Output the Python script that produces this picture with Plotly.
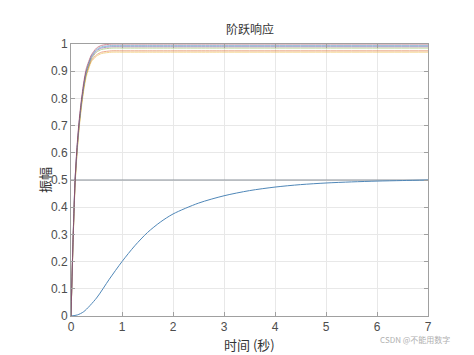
import plotly.graph_objects as go

# ---- data ----
t_slow = [0, 0.125, 0.25, 0.5, 0.75, 1.0, 1.25, 1.5, 1.75, 2.0, 2.5, 3.0, 3.5, 4.0, 4.5, 5.0, 5.5, 6.0, 6.5, 7.0]
y_slow = [0, 0.004, 0.016, 0.066, 0.135, 0.2, 0.258, 0.307, 0.345, 0.375, 0.415, 0.442, 0.461, 0.474, 0.483, 0.489, 0.493, 0.496, 0.498, 0.5]

t_fast = [0, 0.04, 0.08, 0.12, 0.16, 0.2, 0.25, 0.3, 0.4, 0.5, 0.6, 0.8, 1.0, 1.5, 2, 3, 4, 5, 6, 7]
fast_blue   = [0, 0.28, 0.50, 0.62, 0.71, 0.78, 0.85, 0.90, 0.955, 0.98, 0.99, 0.995, 0.995, 0.995, 0.995, 0.995, 0.995, 0.995, 0.995, 0.995]
fast_orange = [0, 0.27, 0.49, 0.61, 0.70, 0.77, 0.84, 0.89, 0.94, 0.96, 0.97, 0.975, 0.975, 0.975, 0.975, 0.975, 0.975, 0.975, 0.975, 0.975]
fast_yellow = [0, 0.27, 0.48, 0.60, 0.69, 0.76, 0.83, 0.88, 0.935, 0.955, 0.965, 0.97, 0.97, 0.97, 0.97, 0.97, 0.97, 0.97, 0.97, 0.97]
fast_purple = [0, 0.28, 0.50, 0.62, 0.71, 0.78, 0.85, 0.90, 0.95, 0.975, 0.985, 0.99, 0.99, 0.99, 0.99, 0.99, 0.99, 0.99, 0.99, 0.99]
fast_green  = [0, 0.27, 0.49, 0.61, 0.70, 0.77, 0.84, 0.89, 0.945, 0.97, 0.98, 0.985, 0.985, 0.985, 0.985, 0.985, 0.985, 0.985, 0.985, 0.985]
fast_cyan   = [0, 0.28, 0.50, 0.62, 0.71, 0.78, 0.85, 0.90, 0.955, 0.978, 0.988, 0.993, 0.993, 0.993, 0.993, 0.993, 0.993, 0.993, 0.993, 0.993]
fast_red    = [0, 0.28, 0.50, 0.63, 0.72, 0.79, 0.86, 0.91, 0.96, 0.985, 0.995, 1.0, 1.0, 1.0, 1.0, 1.0, 1.0, 1.0, 1.0, 1.0]

ref_x = [0, 7]
ref_y = [0.5, 0.5]

x_ticks = [0, 1, 2, 3, 4, 5, 6, 7]
y_ticks = [0, 0.1, 0.2, 0.3, 0.4, 0.5, 0.6, 0.7, 0.8, 0.9, 1]
y_ticklabels = ["0", "0.1", "0.2", "0.3", "0.4", "0.5", "0.6", "0.7", "0.8", "0.9", "1"]

FONT = "Liberation Sans, Arial, Noto Sans CJK SC, sans-serif"
CJK = "Noto Sans CJK SC, sans-serif"

fig = go.Figure()
fig.add_trace(go.Scatter(x=ref_x, y=ref_y, mode="lines", line=dict(color="#8a9299", width=1.1), hoverinfo="skip"))
fig.add_trace(go.Scatter(x=t_slow, y=y_slow, mode="lines", line=dict(color="#4f87b8", width=1, shape="spline", smoothing=0.8)))
series = [
    (fast_yellow, "#EDB120"),
    (fast_orange, "#D95319"),
    (fast_green, "#77AC30"),
    (fast_purple, "#7E2F8E"),
    (fast_cyan, "#4DBEEE"),
    (fast_blue, "#6f8fb0"),
    (fast_red, "#A2142F"),
]
for ys, c in series:
    fig.add_trace(go.Scatter(x=t_fast, y=ys, mode="lines", opacity=0.5,
                             line=dict(color=c, width=1, shape="spline", smoothing=0.6)))

axis_common = dict(showline=True, linecolor="#a0a0a0", linewidth=1, mirror="ticks",
                   ticks="inside", ticklen=4, tickcolor="#a0a0a0",
                   showgrid=True, gridcolor="#e8e8e8", gridwidth=1, zeroline=False,
                   tickfont=dict(family=FONT, size=12, color="#4d4d4d"))

fig.update_xaxes(range=[0, 7], tickvals=x_ticks, **axis_common)
fig.update_yaxes(range=[0, 1], tickvals=y_ticks, ticktext=y_ticklabels, **axis_common)

fig.update_layout(
    width=474, height=355,
    margin=dict(l=71, r=46, t=44, b=39),
    paper_bgcolor="white", plot_bgcolor="white",
    showlegend=False,
    annotations=[
        dict(text="阶跃响应", x=0.5, y=1, xref="paper", yref="paper", showarrow=False,
             yanchor="middle", yshift=16, font=dict(family=CJK, size=12, color="#333333")),
        dict(text="时间 (秒)", x=0.5, y=0, xref="paper", yref="paper", showarrow=False,
             yanchor="middle", yshift=-28, font=dict(family=CJK, size=13, color="#333333")),
        dict(text="振幅", x=0, y=0.5, xref="paper", yref="paper", showarrow=False,
             xanchor="center", xshift=-27, textangle=-90, font=dict(family=CJK, size=13, color="#333333")),
        dict(text="CSDN @不能用数字", x=1.0, y=0, xref="paper", yref="paper", showarrow=False,
             xanchor="center", xshift=-13, yshift=-31, font=dict(family=CJK, size=8, color="#b0b0b0")),
    ],
)

fig.write_html("out.html")
